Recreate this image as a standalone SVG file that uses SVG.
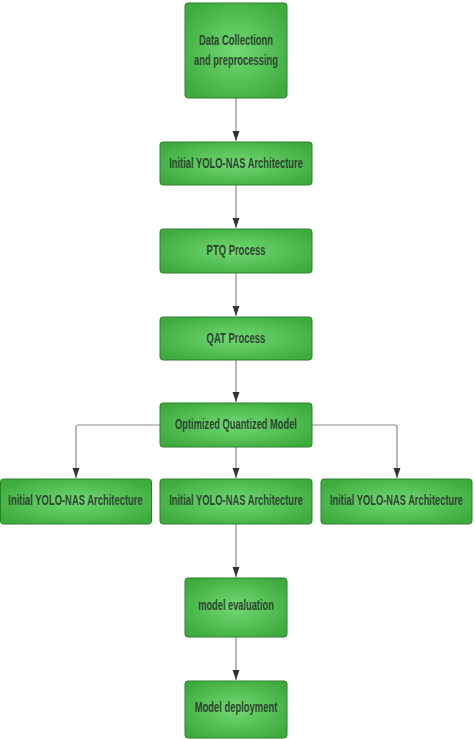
<svg xmlns="http://www.w3.org/2000/svg" width="474" height="739" viewBox="0 0 474 739">
<defs>
<radialGradient id="g" cx="50%" cy="50%" r="60%">
<stop offset="0" stop-color="#74d874"/>
<stop offset="1" stop-color="#3dac3d"/>
</radialGradient>
<style>
.n{fill:url(#g);stroke:#2f7d32;stroke-width:1}
.t{font-family:"Liberation Sans",Arial,sans-serif;font-weight:bold;font-size:14px;fill:#2c4630;text-anchor:middle}
.c{fill:none;stroke:#8a8a8a;stroke-width:1.2}
.a{fill:#333}
</style>
</defs>
<rect width="474" height="739" fill="#fff"/>
<g id="connectors">
<path class="c" d="M236,98 V141"/>
<path class="a" d="M232.5,131 L239.5,131 L236,141 Z"/>
<path class="c" d="M236,185 V228"/>
<path class="a" d="M232.5,218 L239.5,218 L236,228 Z"/>
<path class="c" d="M236,273 V316"/>
<path class="a" d="M232.5,306 L239.5,306 L236,316 Z"/>
<path class="c" d="M236,360 V402"/>
<path class="a" d="M232.5,392 L239.5,392 L236,402 Z"/>
<path class="c" d="M160,425 H78 Q76,425 76,427 V478"/>
<path class="a" d="M72.5,468 L79.5,468 L76,478 Z"/>
<path class="c" d="M236,447 V478"/>
<path class="a" d="M232.5,468 L239.5,468 L236,478 Z"/>
<path class="c" d="M312,425 H395 Q397,425 397,427 V478"/>
<path class="a" d="M393.5,468 L400.5,468 L397,478 Z"/>
<path class="c" d="M236,524 V577"/>
<path class="a" d="M232.5,567 L239.5,567 L236,577 Z"/>
<path class="c" d="M236,637 V680"/>
<path class="a" d="M232.5,670 L239.5,670 L236,680 Z"/>
</g>
<g id="n1"><rect class="n" x="185" y="3" width="102" height="95" rx="3"/>
<text class="t" transform="translate(236,45) scale(0.7,1)" textLength="106" lengthAdjust="spacingAndGlyphs">Data Collectionn</text>
<text class="t" transform="translate(236,65) scale(0.7,1)" textLength="120" lengthAdjust="spacingAndGlyphs">and preprocessing</text></g>
<g id="n2"><rect class="n" x="160" y="142" width="152" height="43" rx="3"/>
<text class="t" transform="translate(236,168) scale(0.7,1)" textLength="191" lengthAdjust="spacingAndGlyphs">Initial YOLO-NAS Architecture</text></g>
<g id="n3"><rect class="n" x="160" y="229" width="152" height="44" rx="3"/>
<text class="t" transform="translate(236,255) scale(0.7,1)" textLength="84" lengthAdjust="spacingAndGlyphs">PTQ Process</text></g>
<g id="n4"><rect class="n" x="160" y="317" width="152" height="43" rx="3"/>
<text class="t" transform="translate(236,343) scale(0.7,1)" textLength="84" lengthAdjust="spacingAndGlyphs">QAT Process</text></g>
<g id="n5"><rect class="n" x="160" y="403" width="152" height="44" rx="3"/>
<text class="t" transform="translate(236,429) scale(0.7,1)" textLength="174" lengthAdjust="spacingAndGlyphs">Optimized Quantized Model</text></g>
<g id="n6"><rect class="n" x="0.5" y="479" width="151" height="45" rx="3"/>
<text class="t" transform="translate(75.5,505) scale(0.7,1)" textLength="192" lengthAdjust="spacingAndGlyphs">Initial YOLO-NAS Architecture</text></g>
<g id="n7"><rect class="n" x="160" y="479" width="152" height="45" rx="3"/>
<text class="t" transform="translate(236,505) scale(0.7,1)" textLength="191" lengthAdjust="spacingAndGlyphs">Initial YOLO-NAS Architecture</text></g>
<g id="n8"><rect class="n" x="321" y="479" width="151" height="45" rx="3"/>
<text class="t" transform="translate(396.5,505) scale(0.7,1)" textLength="190" lengthAdjust="spacingAndGlyphs">Initial YOLO-NAS Architecture</text></g>
<g id="n9"><rect class="n" x="185" y="578" width="102" height="59" rx="3"/>
<text class="t" transform="translate(236,610) scale(0.7,1)" textLength="108" lengthAdjust="spacingAndGlyphs">model evaluation</text></g>
<g id="n10"><rect class="n" x="185" y="681" width="102" height="57" rx="3"/>
<text class="t" transform="translate(236,712) scale(0.7,1)" textLength="118" lengthAdjust="spacingAndGlyphs">Model deployment</text></g>
</svg>
